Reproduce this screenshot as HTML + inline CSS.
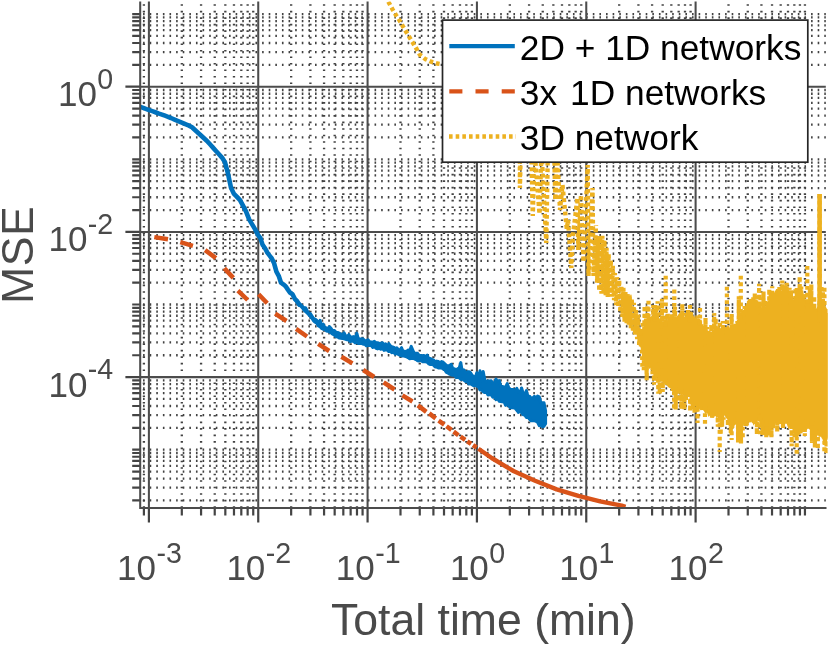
<!DOCTYPE html>
<html lang="en"><head><meta charset="utf-8"><title>MSE vs total time</title>
<style>html,body{margin:0;padding:0;background:#fff}body{width:830px;height:645px;overflow:hidden}</style></head>
<body>
<svg width="830" height="645" viewBox="0 0 830 645" style="display:block">
<rect x="0" y="0" width="830" height="645" fill="#fff"/>
<defs><clipPath id="ax"><rect x="140.2" y="1.5" width="687.4" height="506.4"/></clipPath></defs>
<path d="M143.90 507.9V1.5M181.81 507.9V1.5M201.07 507.9V1.5M214.73 507.9V1.5M225.33 507.9V1.5M233.98 507.9V1.5M241.30 507.9V1.5M247.64 507.9V1.5M253.24 507.9V1.5M291.15 507.9V1.5M310.41 507.9V1.5M324.07 507.9V1.5M334.67 507.9V1.5M343.32 507.9V1.5M350.64 507.9V1.5M356.98 507.9V1.5M362.58 507.9V1.5M400.49 507.9V1.5M419.75 507.9V1.5M433.41 507.9V1.5M444.01 507.9V1.5M452.66 507.9V1.5M459.98 507.9V1.5M466.32 507.9V1.5M471.92 507.9V1.5M509.83 507.9V1.5M529.09 507.9V1.5M542.75 507.9V1.5M553.35 507.9V1.5M562.00 507.9V1.5M569.32 507.9V1.5M575.66 507.9V1.5M581.26 507.9V1.5M619.17 507.9V1.5M638.43 507.9V1.5M652.09 507.9V1.5M662.69 507.9V1.5M671.34 507.9V1.5M678.66 507.9V1.5M685.00 507.9V1.5M690.60 507.9V1.5M728.51 507.9V1.5M747.77 507.9V1.5M761.43 507.9V1.5M772.03 507.9V1.5M780.68 507.9V1.5M788.00 507.9V1.5M794.34 507.9V1.5M799.94 507.9V1.5M804.94 507.9V1.5" stroke="#424242" stroke-width="2.3" stroke-dasharray="1.6 4.92" stroke-dashoffset="0" fill="none"/>
<path d="M140.2 500.45H825.8M140.2 487.66H825.8M140.2 478.59H825.8M140.2 471.55H825.8M140.2 465.81H825.8M140.2 460.95H825.8M140.2 456.74H825.8M140.2 453.02H825.8M140.2 427.85H825.8M140.2 415.06H825.8M140.2 405.99H825.8M140.2 398.95H825.8M140.2 393.21H825.8M140.2 388.35H825.8M140.2 384.14H825.8M140.2 380.42H825.8M140.2 355.25H825.8M140.2 342.46H825.8M140.2 333.39H825.8M140.2 326.35H825.8M140.2 320.61H825.8M140.2 315.75H825.8M140.2 311.54H825.8M140.2 307.82H825.8M140.2 282.65H825.8M140.2 269.86H825.8M140.2 260.79H825.8M140.2 253.75H825.8M140.2 248.01H825.8M140.2 243.15H825.8M140.2 238.94H825.8M140.2 235.22H825.8M140.2 210.05H825.8M140.2 197.26H825.8M140.2 188.19H825.8M140.2 181.15H825.8M140.2 175.41H825.8M140.2 170.55H825.8M140.2 166.34H825.8M140.2 162.62H825.8M140.2 137.45H825.8M140.2 124.66H825.8M140.2 115.59H825.8M140.2 108.55H825.8M140.2 102.81H825.8M140.2 97.95H825.8M140.2 93.74H825.8M140.2 90.02H825.8M140.2 64.85H825.8M140.2 52.06H825.8M140.2 42.99H825.8M140.2 35.95H825.8M140.2 30.21H825.8M140.2 25.35H825.8M140.2 21.14H825.8M140.2 17.42H825.8M140.2 449.70H825.8M140.2 304.50H825.8M140.2 159.30H825.8M140.2 14.10H825.8" stroke="#424242" stroke-width="2.3" stroke-dasharray="1.6 5.014" stroke-dashoffset="3.774" fill="none"/>
<path d="M148.90 507.9V1.5M258.24 507.9V1.5M367.58 507.9V1.5M476.92 507.9V1.5M586.26 507.9V1.5M695.60 507.9V1.5M140.2 86.70H825.8M140.2 231.90H825.8M140.2 377.10H825.8" stroke="#4c4c4c" stroke-width="2.05" fill="none"/>
<path d="M148.90 507.9v14.6M258.24 507.9v14.6M367.58 507.9v14.6M476.92 507.9v14.6M586.26 507.9v14.6M695.60 507.9v14.6M143.90 507.9v7.5M181.81 507.9v7.5M201.07 507.9v7.5M214.73 507.9v7.5M225.33 507.9v7.5M233.98 507.9v7.5M241.30 507.9v7.5M247.64 507.9v7.5M253.24 507.9v7.5M291.15 507.9v7.5M310.41 507.9v7.5M324.07 507.9v7.5M334.67 507.9v7.5M343.32 507.9v7.5M350.64 507.9v7.5M356.98 507.9v7.5M362.58 507.9v7.5M400.49 507.9v7.5M419.75 507.9v7.5M433.41 507.9v7.5M444.01 507.9v7.5M452.66 507.9v7.5M459.98 507.9v7.5M466.32 507.9v7.5M471.92 507.9v7.5M509.83 507.9v7.5M529.09 507.9v7.5M542.75 507.9v7.5M553.35 507.9v7.5M562.00 507.9v7.5M569.32 507.9v7.5M575.66 507.9v7.5M581.26 507.9v7.5M619.17 507.9v7.5M638.43 507.9v7.5M652.09 507.9v7.5M662.69 507.9v7.5M671.34 507.9v7.5M678.66 507.9v7.5M685.00 507.9v7.5M690.60 507.9v7.5M728.51 507.9v7.5M747.77 507.9v7.5M761.43 507.9v7.5M772.03 507.9v7.5M780.68 507.9v7.5M788.00 507.9v7.5M794.34 507.9v7.5M799.94 507.9v7.5M804.94 507.9v7.5M140.2 86.70h-14.8M140.2 231.90h-14.8M140.2 377.10h-14.8M140.2 500.45h-8M140.2 487.66h-8M140.2 478.59h-8M140.2 471.55h-8M140.2 465.81h-8M140.2 460.95h-8M140.2 456.74h-8M140.2 453.02h-8M140.2 427.85h-8M140.2 415.06h-8M140.2 405.99h-8M140.2 398.95h-8M140.2 393.21h-8M140.2 388.35h-8M140.2 384.14h-8M140.2 380.42h-8M140.2 355.25h-8M140.2 342.46h-8M140.2 333.39h-8M140.2 326.35h-8M140.2 320.61h-8M140.2 315.75h-8M140.2 311.54h-8M140.2 307.82h-8M140.2 282.65h-8M140.2 269.86h-8M140.2 260.79h-8M140.2 253.75h-8M140.2 248.01h-8M140.2 243.15h-8M140.2 238.94h-8M140.2 235.22h-8M140.2 210.05h-8M140.2 197.26h-8M140.2 188.19h-8M140.2 181.15h-8M140.2 175.41h-8M140.2 170.55h-8M140.2 166.34h-8M140.2 162.62h-8M140.2 137.45h-8M140.2 124.66h-8M140.2 115.59h-8M140.2 108.55h-8M140.2 102.81h-8M140.2 97.95h-8M140.2 93.74h-8M140.2 90.02h-8M140.2 64.85h-8M140.2 52.06h-8M140.2 42.99h-8M140.2 35.95h-8M140.2 30.21h-8M140.2 25.35h-8M140.2 21.14h-8M140.2 17.42h-8M140.2 449.70h-8M140.2 304.50h-8M140.2 159.30h-8M140.2 14.10h-8" stroke="#444" stroke-width="2.2" fill="none"/>
<g clip-path="url(#ax)">
<path d="M388.3 1.7 L392.4 9.1 L396.0 15.1 L399.6 20.6 L402.9 26.4 L406.3 32.0 L409.7 37.7 L413.2 43.3 L416.6 49.0 L419.8 54.7 L425.0 58.9 L431.1 61.7 L437.1 63.5 L446.0 65.0" stroke="#EDB120" stroke-width="4.4" stroke-dasharray="3.8 2.87" fill="none" stroke-linejoin="bevel"/>
<path d="M519.9 140.0 L519.9 188.0 L521.0 140.0 L531.0 140.0 L532.8 216.0 L534.5 150.0 L539.5 214.0 L541.5 150.0 L546.3 243.0 L548.0 140.0 L554.0 140.0 L555.3 200.0 L557.0 150.0 L560.0 210.0 L562.5 185.0 L566.8 229.0 L568.0 220.0 L571.3 268.0 L573.0 235.0 L577.5 198.0 L578.3 250.0 L581.0 195.0 L583.5 262.0 L587.7 165.0 L588.5 276.0 L592.5 188.0 L593.5 276.0 L596.0 225.0" stroke="#EDB120" stroke-width="4.4" stroke-dasharray="3.8 2.87" fill="none" stroke-linejoin="bevel"/>
<path d="M640.0 330.0 L641.6 333.1 L643.2 329.0 L644.8 326.3 L646.4 323.0 L648.0 319.6 L649.6 317.7 L651.2 318.1 L652.8 315.8 L654.4 315.7 L656.0 312.5 L657.6 315.1 L659.2 320.3 L660.8 321.4 L662.4 323.3 L664.0 321.7 L665.6 321.8 L667.2 322.8 L668.8 320.0 L670.4 321.3 L672.0 320.1 L673.6 317.2 L675.2 319.4 L676.8 317.6 L678.4 315.7 L680.0 313.6 L681.6 317.5 L683.2 318.3 L684.8 318.4 L686.4 315.6 L688.0 315.0 L689.6 316.7 L691.2 317.7 L692.8 316.1 L694.4 318.8 L696.0 320.2 L697.6 319.2 L699.2 319.5 L700.8 323.8 L702.4 326.1 L704.0 327.6 L705.6 329.6 L707.2 331.4 L708.8 332.6 L710.4 335.2 L712.0 333.4 L713.6 330.5 L715.2 332.4 L716.8 331.1 L718.4 326.1 L720.0 330.1 L721.6 330.1 L723.2 328.7 L724.8 330.5 L726.4 329.9 L728.0 326.2 L729.6 329.5 L731.2 328.6 L732.8 326.9 L734.4 324.4 L736.0 324.2 L737.6 321.7 L739.2 318.6 L740.8 315.5 L742.4 312.6 L744.0 310.6 L745.6 308.0 L747.2 305.4 L748.8 300.1 L750.4 299.6 L752.0 300.9 L753.6 299.5 L755.2 303.7 L756.8 306.4 L758.4 306.8 L760.0 304.7 L761.6 308.8 L763.2 308.1 L764.8 308.7 L766.4 308.3 L768.0 301.8 L769.6 301.1 L771.2 297.2 L772.8 293.0 L774.4 293.8 L776.0 290.9 L777.6 290.4 L779.2 290.6 L780.8 293.6 L782.4 293.1 L784.0 293.6 L785.6 293.1 L787.2 288.7 L788.8 292.1 L790.4 295.1 L792.0 302.7 L793.6 304.9 L795.2 298.3 L796.8 291.9 L798.4 288.5 L800.0 288.3 L801.6 289.3 L803.2 295.9 L804.8 303.2 L806.4 303.9 L808.0 300.8 L809.6 305.8 L811.2 305.0 L812.8 308.9 L814.4 306.4 L816.0 311.9 L817.6 307.5 L819.2 309.7 L820.8 308.3 L822.4 301.7 L824.0 303.1 L825.6 308.4 L827.2 313.0 L827.2 437.2 L825.6 440.8 L824.0 441.0 L822.4 437.1 L820.8 433.3 L819.2 433.2 L817.6 432.3 L816.0 431.9 L814.4 430.1 L812.8 425.3 L811.2 423.8 L809.6 428.2 L808.0 425.7 L806.4 429.2 L804.8 430.3 L803.2 429.5 L801.6 432.5 L800.0 432.8 L798.4 435.0 L796.8 434.1 L795.2 434.9 L793.6 428.7 L792.0 426.4 L790.4 425.0 L788.8 427.9 L787.2 422.8 L785.6 422.9 L784.0 419.6 L782.4 417.9 L780.8 417.9 L779.2 419.2 L777.6 420.5 L776.0 422.9 L774.4 419.1 L772.8 422.7 L771.2 423.5 L769.6 422.0 L768.0 424.6 L766.4 427.7 L764.8 422.3 L763.2 421.7 L761.6 425.4 L760.0 420.3 L758.4 419.8 L756.8 418.8 L755.2 419.2 L753.6 423.6 L752.0 419.4 L750.4 420.5 L748.8 420.7 L747.2 425.0 L745.6 422.5 L744.0 422.6 L742.4 423.0 L740.8 422.8 L739.2 422.4 L737.6 424.1 L736.0 422.6 L734.4 424.7 L732.8 424.3 L731.2 420.6 L729.6 420.6 L728.0 419.2 L726.4 416.6 L724.8 414.0 L723.2 413.3 L721.6 414.2 L720.0 413.3 L718.4 413.1 L716.8 416.9 L715.2 413.9 L713.6 416.7 L712.0 416.9 L710.4 413.8 L708.8 415.6 L707.2 411.2 L705.6 412.9 L704.0 409.1 L702.4 409.2 L700.8 409.4 L699.2 406.7 L697.6 410.3 L696.0 405.2 L694.4 401.3 L692.8 399.9 L691.2 393.3 L689.6 393.9 L688.0 392.4 L686.4 393.4 L684.8 393.8 L683.2 392.6 L681.6 394.0 L680.0 391.1 L678.4 390.6 L676.8 393.2 L675.2 390.2 L673.6 390.1 L672.0 387.3 L670.4 387.7 L668.8 386.1 L667.2 384.6 L665.6 382.9 L664.0 381.6 L662.4 380.6 L660.8 380.2 L659.2 374.9 L657.6 373.3 L656.0 370.9 L654.4 369.9 L652.8 372.0 L651.2 366.1 L649.6 367.7 L648.0 362.7 L646.4 362.0 L644.8 360.8 L643.2 355.5 L641.6 348.7 L640.0 342.7Z" fill="#EDB120" stroke="#EDB120" stroke-width="1.5" stroke-linejoin="miter"/>
<path d="M594.0 240.0 L595.0 271.7 L596.1 237.9 L597.1 282.6 L598.2 236.0 L599.2 290.8 L600.3 236.6 L601.4 293.8 L602.4 235.8 L603.5 293.1 L604.5 240.5 L605.6 295.9 L606.6 247.8 L607.7 297.0 L608.7 254.0 L609.8 296.6 L610.8 259.8 L611.9 296.8 L612.9 265.7 L614.0 300.1 L615.0 273.0 L616.1 305.2 L617.1 277.2 L618.2 307.1 L619.2 280.0 L620.3 312.3 L621.3 285.5 L622.4 317.0 L623.4 287.4 L624.5 321.6 L625.5 292.0 L626.6 323.2 L627.6 294.2 L628.7 324.6 L629.7 294.9 L630.8 328.1 L631.8 298.9 L632.9 331.8 L633.9 302.7 L635.0 334.7 L636.0 309.1 L637.1 339.1 L638.1 314.7 L639.2 344.8 L640.2 328.6 L640.9 347.7 L641.7 331.4 L642.4 368.2 L643.1 321.5 L643.8 370.2 L644.6 305.8 L645.3 360.6 L646.0 318.6 L646.7 380.2 L647.5 305.6 L648.2 363.2 L648.9 317.8 L649.6 366.5 L650.4 317.4 L651.1 366.4 L651.8 317.0 L652.5 374.1 L653.3 305.1 L654.0 384.8 L654.7 316.2 L655.4 378.5 L656.2 309.5 L656.9 372.1 L657.6 301.3 L658.3 393.8 L659.1 319.0 L659.8 394.7 L660.5 319.1 L661.2 380.0 L662.0 298.7 L662.7 392.0 L663.4 322.8 L664.1 382.9 L664.9 319.2 L665.6 383.8 L666.3 321.9 L667.0 385.5 L667.8 312.6 L668.5 385.6 L669.2 317.1 L669.9 388.3 L670.7 320.7 L671.4 388.0 L672.1 314.2 L672.8 390.9 L673.6 319.4 L674.3 409.7 L675.0 307.0 L675.7 409.6 L676.5 318.1 L677.2 390.6 L677.9 317.4 L678.6 401.3 L679.4 316.9 L680.1 391.7 L680.8 315.6 L681.5 408.7 L682.3 304.2 L683.0 392.6 L683.7 317.3 L684.4 409.5 L685.2 312.9 L685.9 400.1 L686.6 317.6 L687.3 392.8 L688.1 310.0 L688.8 394.6 L689.5 318.1 L690.2 411.3 L691.0 312.2 L691.7 404.6 L692.4 318.6 L693.1 409.4 L693.9 318.8 L694.6 413.0 L695.3 316.8 L696.0 403.0 L696.8 315.4 L697.5 422.9 L698.2 320.4 L698.9 406.7 L699.7 318.8 L700.4 407.8 L701.1 323.8 L701.8 408.5 L702.6 325.2 L703.3 409.4 L704.0 326.0 L704.7 410.7 L705.5 317.9 L706.2 411.4 L706.9 327.1 L707.6 411.9 L708.4 330.8 L709.1 412.6 L709.8 333.1 L710.5 413.4 L711.3 324.9 L712.0 417.7 L712.7 333.3 L713.4 416.4 L714.2 312.9 L714.9 414.0 L715.6 318.3 L716.3 415.8 L717.1 327.6 L717.8 426.8 L718.5 328.1 L719.2 416.9 L720.0 321.4 L720.7 434.9 L721.4 328.4 L722.1 426.7 L722.9 320.9 L723.6 419.7 L724.3 327.9 L725.0 414.9 L725.8 329.6 L726.5 415.3 L727.2 329.7 L727.9 425.8 L728.7 329.3 L729.4 418.7 L730.1 329.8 L730.8 433.4 L731.6 314.1 L732.3 428.6 L733.0 329.5 L733.7 422.6 L734.5 326.5 L735.2 424.6 L735.9 324.1 L736.6 424.7 L737.4 320.9 L738.1 442.6 L738.8 296.3 L739.5 426.9 L740.3 315.3 L741.0 443.4 L741.7 312.6 L742.4 424.8 L743.2 311.0 L743.9 425.0 L744.6 306.1 L745.3 426.0 L746.1 306.2 L746.8 425.5 L747.5 303.7 L748.2 422.5 L749.0 300.7 L749.7 422.9 L750.4 298.9 L751.1 420.9 L751.9 299.7 L752.6 420.6 L753.3 297.0 L754.0 423.0 L754.8 293.2 L755.5 425.4 L756.2 296.0 L756.9 434.4 L757.7 304.7 L758.4 420.9 L759.1 283.8 L759.8 420.8 L760.6 298.2 L761.3 427.3 L762.0 308.0 L762.7 434.9 L763.5 291.6 L764.2 428.1 L764.9 299.7 L765.6 435.2 L766.4 308.7 L767.1 427.1 L767.8 302.0 L768.5 436.0 L769.3 288.8 L770.0 434.9 L770.7 292.8 L771.4 437.4 L772.2 286.2 L772.9 428.4 L773.6 293.1 L774.3 420.3 L775.1 293.2 L775.8 420.6 L776.5 293.1 L777.2 431.7 L778.0 288.9 L778.7 423.5 L779.4 287.0 L780.1 424.3 L780.9 290.0 L781.6 417.6 L782.3 280.5 L783.0 428.0 L783.8 289.5 L784.5 423.3 L785.2 285.6 L785.9 421.1 L786.7 282.7 L787.4 422.7 L788.1 294.1 L788.8 423.9 L789.6 287.7 L790.3 424.9 L791.0 290.2 L791.7 446.3 L792.5 299.9 L793.2 429.0 L793.9 300.6 L794.6 437.0 L795.4 288.0 L796.1 437.2 L796.8 288.1 L797.5 433.9 L798.3 290.0 L799.0 433.2 L799.7 276.5 L800.4 432.5 L801.2 286.6 L801.9 430.8 L802.6 295.7 L803.3 430.2 L804.1 293.1 L804.8 436.0 L805.5 295.4 L806.2 428.2 L807.0 300.5 L807.7 428.8 L808.4 302.3 L809.1 425.6 L809.9 288.6 L810.6 424.7 L811.3 284.3 L812.0 442.8 L812.8 307.9 L813.5 428.3 L814.2 296.1 L814.9 447.6 L815.7 308.5 L816.4 429.5 L817.1 311.7 L817.8 449.2 L818.6 309.9 L819.3 436.4 L820.0 308.3 L820.7 436.7 L821.5 285.8 L822.2 435.1 L822.9 291.6 L823.6 439.4 L824.4 286.3 L825.1 445.6 L825.8 308.9 L826.5 453.9 L827.3 312.9 L828.0 438.0" stroke="#EDB120" stroke-width="4.2" stroke-dasharray="3.8 2.87" fill="none" stroke-linejoin="bevel"/>
<path d="M648.5 300.7V322.9M665.7 275.7V327.2M674.3 289.6V324.1M726.9 286.8V334.6M740.8 275.7V319.7M807.3 266.0V309.0M819.6 194.0V313.8M655.0 305.0V321.2M690.0 305.0V323.2M700.0 308.0V327.7M681.7 388.2V409.0M719.7 410.0V452.0M731.6 418.0V440.0M742.7 420.0V439.0M766.3 420.0V440.0M796.7 430.0V455.0M824.4 434.0V452.0M705.0 406.6V425.0M760.0 417.2V437.0M812.0 421.4V443.0" stroke="#EDB120" stroke-width="4.2" fill="none" stroke-dasharray="3.8 2.87"/>
<path d="M819.6 194V320" stroke="#EDB120" stroke-width="4.6" fill="none"/>
<path d="M154.3 237.1L168 239.3M180.3 242.1L192.9 245.8M205.1 250.1L215.9 258.1M224.3 268.2L233.3 277.9M237.9 290.6L247.7 300M258.6 294.2L267.2 303.3M275.2 313.7L286.5 321M296.1 328.9L307 336.5M318.2 343.9L329.2 351M341.4 356.8L352.4 363.4M363.2 370L374.2 377M383.6 382.3L394.5 389.5M402.4 395.3L412.5 401.5M417.9 405.4L426.3 411.9M429.2 413.4L435.7 418.4M438.6 420.6L444.3 424.6M446.5 426.2L451.5 429.9M453.6 431.6L458.4 435.2M460.5 436.7L465.2 439.9M467.2 441.3L471.1 443.9M473 445.2L476.6 447.5" stroke="#D95319" stroke-width="4.5" fill="none"/>
<path d="M478.4 448.7 L491.7 458.0 L513.4 471.0 L535.1 480.7 L556.7 489.4 L578.4 495.9 L600.1 501.3 L621.8 505.7 L625.6 506.8" stroke="#D95319" stroke-width="4.4" fill="none" stroke-linejoin="round"/>
<path d="M138.0 106.0 L141.0 107.1 L144.0 108.2 L147.0 109.3 L150.0 110.4 L153.0 111.4 L156.0 112.5 L159.0 113.6 L162.0 114.6 L165.0 115.7 L168.0 116.8 L171.0 118.0 L174.0 119.3 L177.0 120.6 L180.0 121.8 L183.0 123.1 L186.0 124.4 L189.0 125.6 L192.0 127.2 L195.0 130.0 L198.0 132.7 L201.0 135.5 L204.0 138.3 L207.0 141.0 L210.0 144.3 L213.0 147.6 L216.0 151.0 L219.0 154.3 L222.0 157.6 L225.0 162.3 L228.0 173.7 L231.0 187.8 L234.0 193.9 L237.0 196.9 L240.0 200.1 L243.0 205.7 L246.0 211.3 L249.0 219.1 L252.0 224.1 L255.0 229.1 L258.0 234.9 L260.3 237.9 L262.6 244.9 L264.9 248.0 L267.2 252.4 L269.5 255.5 L271.8 258.5 L274.1 263.3 L276.4 271.7 L278.7 275.8 L281.0 282.7 L283.3 284.3 L285.6 286.2 L287.9 289.6 L290.2 292.8 L292.5 294.2 L294.8 298.8 L297.1 301.2 L299.4 304.7" stroke="#0072BD" stroke-width="4.6" fill="none" stroke-linejoin="round" stroke-linecap="round"/>
<path d="M296.0 300.1 L297.6 302.2 L299.2 303.7 L300.8 304.6 L302.4 306.4 L304.0 307.9 L305.6 307.7 L307.2 310.8 L308.8 313.6 L310.4 313.6 L312.0 316.1 L313.6 318.5 L315.2 319.1 L316.8 320.5 L318.4 323.5 L320.0 320.3 L321.6 325.4 L323.2 324.2 L324.8 327.1 L326.4 328.1 L328.0 328.2 L329.6 326.7 L331.2 328.5 L332.8 330.8 L334.4 330.4 L336.0 332.3 L337.6 332.4 L339.2 333.1 L340.8 334.0 L342.4 335.5 L344.0 332.7 L345.6 335.8 L347.2 336.6 L348.8 334.7 L350.4 337.1 L352.0 337.0 L353.6 336.6 L355.2 338.4 L356.8 333.1 L358.4 339.2 L360.0 339.1 L361.6 338.8 L363.2 339.0 L364.8 340.5 L366.4 340.7 L368.0 339.7 L369.6 341.7 L371.2 342.0 L372.8 342.3 L374.4 341.4 L376.0 342.7 L377.6 342.7 L379.2 343.5 L380.8 343.1 L382.4 342.7 L384.0 344.8 L385.6 343.9 L387.2 346.5 L388.8 343.6 L390.4 345.9 L392.0 346.8 L393.6 347.1 L395.2 348.6 L396.8 347.8 L398.4 349.8 L400.0 349.9 L401.6 347.7 L403.2 351.7 L404.8 351.2 L406.4 351.6 L408.0 350.1 L409.6 350.8 L411.2 346.4 L412.8 350.0 L414.4 353.5 L416.0 353.2 L417.6 353.3 L419.2 355.5 L420.8 355.6 L422.4 355.8 L424.0 355.5 L425.6 356.6 L427.2 355.2 L428.8 358.6 L430.4 358.5 L432.0 359.4 L433.6 359.9 L435.2 361.7 L436.8 361.1 L438.4 361.4 L440.0 363.5 L441.6 361.5 L443.2 362.2 L444.8 363.8 L446.4 365.4 L448.0 365.9 L449.6 365.4 L451.2 364.3 L452.8 368.6 L454.4 368.7 L456.0 369.7 L457.6 368.8 L459.2 367.9 L460.8 362.6 L462.4 372.4 L464.0 369.9 L465.6 373.2 L467.2 371.8 L468.8 371.7 L470.4 372.5 L472.0 375.0 L473.6 376.5 L475.2 377.7 L476.8 372.7 L478.4 378.5 L480.0 370.7 L481.6 380.7 L483.2 371.5 L484.8 379.9 L486.4 381.7 L488.0 380.9 L489.6 380.9 L491.2 380.7 L492.8 383.4 L494.4 383.1 L496.0 379.1 L497.6 381.5 L499.2 380.5 L500.8 386.2 L502.4 386.4 L504.0 387.1 L505.6 387.0 L507.2 383.5 L508.8 387.7 L510.4 389.4 L512.0 389.4 L513.6 389.5 L515.2 391.2 L516.8 388.3 L518.4 391.9 L520.0 392.6 L521.6 388.0 L523.2 393.5 L524.8 394.7 L526.4 390.6 L528.0 396.8 L529.6 396.2 L531.2 398.1 L532.8 397.8 L534.4 396.3 L536.0 399.4 L537.6 396.0 L539.2 396.8 L540.8 402.2 L542.4 402.8 L544.0 402.7 L545.6 410.7 L545.6 423.7 L544.0 426.2 L542.4 426.7 L540.8 424.9 L539.2 425.6 L537.6 422.3 L536.0 421.3 L534.4 420.6 L532.8 420.8 L531.2 420.8 L529.6 419.3 L528.0 417.1 L526.4 417.5 L524.8 415.1 L523.2 414.7 L521.6 412.9 L520.0 410.9 L518.4 412.4 L516.8 410.4 L515.2 408.3 L513.6 407.8 L512.0 407.8 L510.4 407.7 L508.8 406.0 L507.2 403.3 L505.6 405.3 L504.0 401.6 L502.4 401.9 L500.8 401.5 L499.2 401.2 L497.6 398.3 L496.0 399.7 L494.4 396.4 L492.8 397.2 L491.2 394.7 L489.6 394.7 L488.0 395.0 L486.4 392.1 L484.8 392.6 L483.2 391.8 L481.6 389.9 L480.0 389.9 L478.4 387.1 L476.8 386.1 L475.2 385.3 L473.6 385.7 L472.0 384.7 L470.4 384.0 L468.8 383.9 L467.2 381.2 L465.6 381.4 L464.0 380.3 L462.4 379.0 L460.8 379.4 L459.2 377.8 L457.6 377.3 L456.0 377.5 L454.4 375.2 L452.8 375.2 L451.2 375.0 L449.6 374.2 L448.0 373.0 L446.4 372.4 L444.8 369.9 L443.2 369.0 L441.6 368.0 L440.0 367.9 L438.4 368.0 L436.8 367.1 L435.2 367.0 L433.6 365.2 L432.0 364.5 L430.4 364.6 L428.8 363.9 L427.2 362.3 L425.6 361.9 L424.0 361.6 L422.4 361.7 L420.8 360.4 L419.2 360.9 L417.6 360.7 L416.0 359.6 L414.4 358.8 L412.8 358.2 L411.2 358.5 L409.6 358.7 L408.0 357.6 L406.4 356.7 L404.8 356.3 L403.2 355.9 L401.6 356.0 L400.0 355.3 L398.4 354.5 L396.8 353.3 L395.2 354.1 L393.6 352.0 L392.0 352.7 L390.4 351.5 L388.8 351.6 L387.2 350.0 L385.6 349.9 L384.0 350.4 L382.4 348.4 L380.8 349.3 L379.2 348.2 L377.6 348.9 L376.0 348.4 L374.4 346.5 L372.8 347.4 L371.2 345.6 L369.6 345.5 L368.0 345.6 L366.4 345.9 L364.8 344.3 L363.2 344.2 L361.6 343.4 L360.0 343.4 L358.4 343.6 L356.8 342.4 L355.2 342.9 L353.6 341.2 L352.0 341.0 L350.4 341.7 L348.8 340.1 L347.2 339.8 L345.6 339.3 L344.0 338.9 L342.4 338.4 L340.8 338.2 L339.2 338.0 L337.6 336.9 L336.0 336.7 L334.4 335.1 L332.8 334.2 L331.2 333.0 L329.6 332.0 L328.0 331.3 L326.4 331.0 L324.8 329.3 L323.2 329.3 L321.6 328.4 L320.0 326.8 L318.4 325.9 L316.8 323.2 L315.2 322.3 L313.6 320.8 L312.0 318.5 L310.4 316.6 L308.8 314.8 L307.2 313.0 L305.6 311.7 L304.0 310.1 L302.4 307.9 L300.8 306.3 L299.2 305.3 L297.6 303.1 L296.0 301.1Z" fill="#0072BD" stroke="#0072BD" stroke-width="3" stroke-linejoin="round"/>
</g>
<path d="M140.2 1.5V507.9H826.5" stroke="#4c4c4c" stroke-width="2.05" fill="none"/>
<rect x="442.5" y="20.1" width="365.3" height="142.1" fill="#fff" stroke="#262626" stroke-width="1.7"/>
<path d="M449.3 46.1H514.8" stroke="#0072BD" stroke-width="4.2"/>
<path d="M449.3 91.3H514.8" stroke="#D95319" stroke-width="4.2" stroke-dasharray="13.1 13.1"/>
<path d="M449 136.5H516" stroke="#EDB120" stroke-width="4.4" stroke-dasharray="3.6 3.07"/>
<text x="519.8" y="59.6" font-family="'Liberation Sans', Arial, Helvetica, sans-serif" font-size="35.3" fill="#000">2D + 1D networks</text>
<text x="519.8" y="104.8" font-family="'Liberation Sans', Arial, Helvetica, sans-serif" font-size="35.3" fill="#000">3x<tspan dx="3.2"> 1D networks</tspan></text>
<text x="519.8" y="150.0" font-family="'Liberation Sans', Arial, Helvetica, sans-serif" font-size="35.3" fill="#000">3D network</text>
<text x="149.5" y="580.4" font-family="'Liberation Sans', Arial, Helvetica, sans-serif" font-size="35" fill="#4a4a4a" text-anchor="middle">10<tspan font-size="28.6" dx="0.4" dy="-17.3">-3</tspan></text>
<text x="258.8" y="580.4" font-family="'Liberation Sans', Arial, Helvetica, sans-serif" font-size="35" fill="#4a4a4a" text-anchor="middle">10<tspan font-size="28.6" dx="0.4" dy="-17.3">-2</tspan></text>
<text x="368.2" y="580.4" font-family="'Liberation Sans', Arial, Helvetica, sans-serif" font-size="35" fill="#4a4a4a" text-anchor="middle">10<tspan font-size="28.6" dx="0.4" dy="-17.3">-1</tspan></text>
<text x="477.5" y="580.4" font-family="'Liberation Sans', Arial, Helvetica, sans-serif" font-size="35" fill="#4a4a4a" text-anchor="middle">10<tspan font-size="28.6" dx="0.4" dy="-17.3">0</tspan></text>
<text x="586.9" y="580.4" font-family="'Liberation Sans', Arial, Helvetica, sans-serif" font-size="35" fill="#4a4a4a" text-anchor="middle">10<tspan font-size="28.6" dx="0.4" dy="-17.3">1</tspan></text>
<text x="696.2" y="580.4" font-family="'Liberation Sans', Arial, Helvetica, sans-serif" font-size="35" fill="#4a4a4a" text-anchor="middle">10<tspan font-size="28.6" dx="0.4" dy="-17.3">2</tspan></text>
<text x="113.2" y="106.1" font-family="'Liberation Sans', Arial, Helvetica, sans-serif" font-size="35" fill="#4a4a4a" text-anchor="end">10<tspan font-size="28.6" dx="0.4" dy="-17.3">0</tspan></text>
<text x="113.2" y="251.3" font-family="'Liberation Sans', Arial, Helvetica, sans-serif" font-size="35" fill="#4a4a4a" text-anchor="end">10<tspan font-size="28.6" dx="0.4" dy="-17.3">-2</tspan></text>
<text x="113.2" y="396.5" font-family="'Liberation Sans', Arial, Helvetica, sans-serif" font-size="35" fill="#4a4a4a" text-anchor="end">10<tspan font-size="28.6" dx="0.4" dy="-17.3">-4</tspan></text>
<text x="483.3" y="634.7" font-family="'Liberation Sans', Arial, Helvetica, sans-serif" font-size="44.6" fill="#4a4a4a" text-anchor="middle">Total time (min)</text>
<text transform="translate(33.2 254.8) rotate(-90)" font-family="'Liberation Sans', Arial, Helvetica, sans-serif" font-size="44.6" letter-spacing="0.6" fill="#4a4a4a" text-anchor="middle">MSE</text>
</svg>
</body></html>
